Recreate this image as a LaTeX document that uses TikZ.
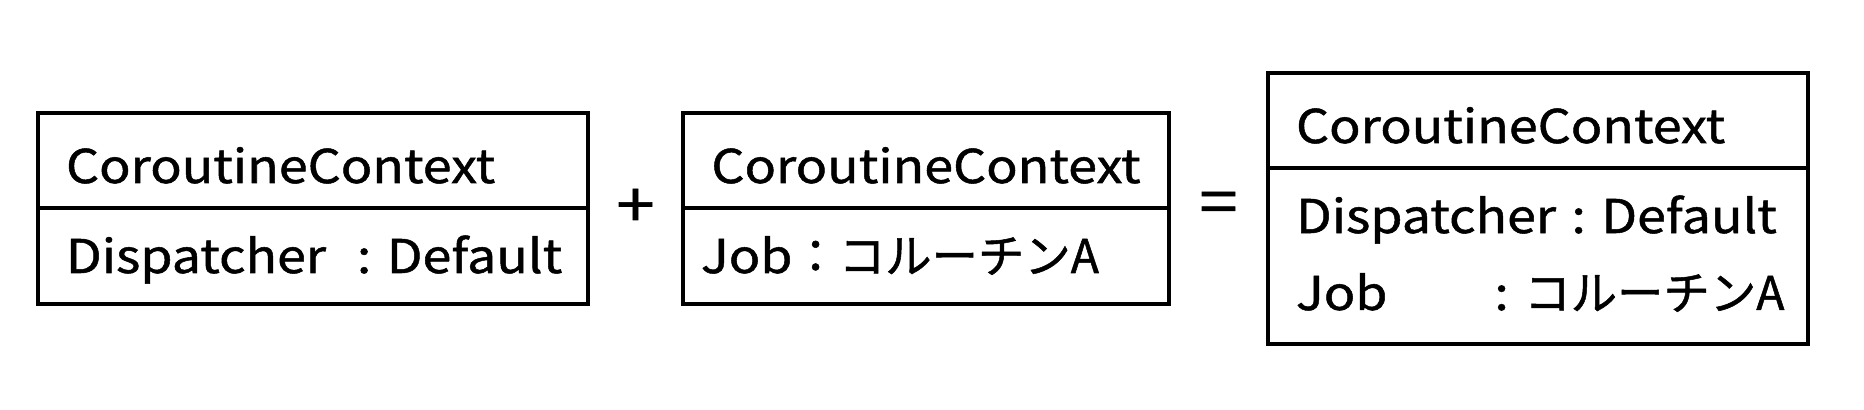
\documentclass[tikz,border=0pt]{standalone}
\usepackage{fontspec}
\setmainfont{Noto Sans CJK JP}[FakeStretch=1.12, FakeBold=1.1]
\newfontfamily\kanafont{Noto Sans CJK JP}[FakeBold=1.1]
\usepackage{tikz}
\usetikzlibrary{positioning}
\usetikzlibrary{calc}

\begin{document}
\begin{tikzpicture}[
    node distance=0pt,
    % node styles
    cbox/.style = {
      draw,
      line width=2.1pt,
      outer sep=0pt,
      inner ysep=0pt,
      font=\fontsize{26.4pt}{43.8pt}\selectfont
    },
    head/.style = {cbox, minimum height=1.90cm, text height=0.9cm, text depth=0cm},
    row/.style = {cbox, minimum height=1.92cm, text height=0.68cm, text depth=0cm},
    rows/.style = {cbox, minimum height=3.52cm, text height=0cm, text depth=0.92cm},
    lefttext/.style = {
      minimum width=#1,
      inner xsep=0.56cm,
      text width=#1-1.12cm,
      align=left
    },
    sign/.style = {font=\fontsize{35pt}{36pt}\selectfont, inner sep=0pt}
  ]
  \useasboundingbox (0,0) rectangle (37.28,-8.2);

  % --- Nodes
  \node[head, lefttext=11cm, anchor=north west] (dispHead) at (0.76,-2.26) {CoroutineContext};
  \node[row, lefttext=11cm, below=of dispHead] (dispRow) {\mbox{Dispatcher~~:~Default}};

  \node[head, minimum width=9.72cm, align=center, right=1.9cm of dispHead] (jobHead) {CoroutineContext};
  \node[row, minimum width=9.72cm, inner xsep=0.36cm, text width=9.0cm, align=left,
    below=of jobHead] (jobRow) {\mbox{Job{\kanafont ：コルーチンA}}};

  \node[head, lefttext=10.8cm, anchor=north west] (sumHead) at (25.36,-1.46) {CoroutineContext};
  \node[rows, lefttext=10.8cm, below=of sumHead] (sumRows)
    {\mbox{Dispatcher~:~Default}\\\mbox{Job\hspace{2.14cm}:~{\kanafont コルーチンA}}};

  % --- Signs
  \node[sign] (plus) at ($(dispHead.south east)!0.5!(jobHead.south west)$) {+};
  \node[sign] (equals) at ($(jobHead.south east)!0.5!(jobHead.south east -| sumRows.west)$) {=};

\end{tikzpicture}
\end{document}
